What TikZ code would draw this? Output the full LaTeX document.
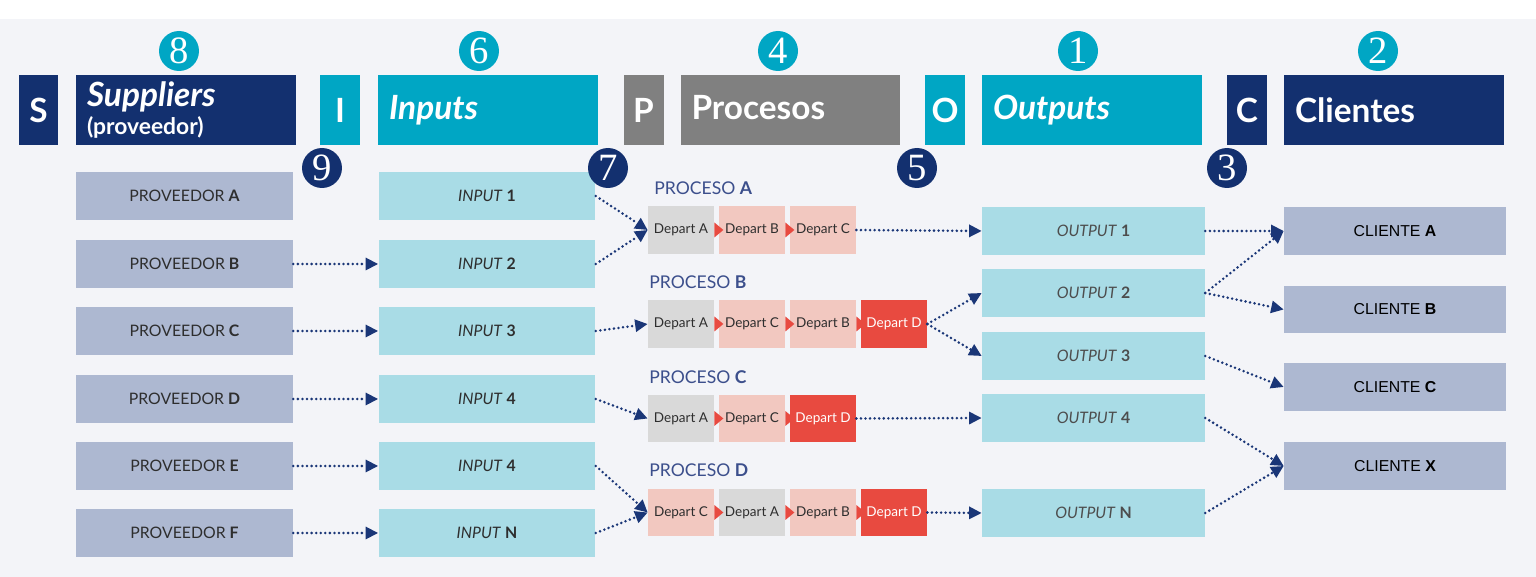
\documentclass[tikz,border=0pt]{standalone}
\usepackage{fontspec}
\newfontfamily\lato{Lato}
\newfontfamily\arialish{Liberation Sans}
\newfontfamily\numserif{Liberation Serif}
\usetikzlibrary{arrows.meta}
\definecolor{cnavy}{HTML}{13306F}
\definecolor{cteal}{HTML}{00A6C4}
\definecolor{cgrey}{HTML}{808080}
\definecolor{cbg}{HTML}{F3F4F8}
\definecolor{csupp}{HTML}{ADB8D1}
\definecolor{cinput}{HTML}{A9DCE6}
\definecolor{cdepa}{HTML}{D9D9D9}
\definecolor{cdepb}{HTML}{F2C8C0}
\definecolor{cdepd}{HTML}{E84A40}
\definecolor{carrow}{HTML}{1A3677}
\definecolor{cproc}{HTML}{3C4F8C}
\definecolor{ctext}{HTML}{2E2E2E}
\tikzset{
  every picture/.style={font=\lato},
  head/.style={fill=#1, text=white, minimum height=1.42cm, inner xsep=0.22cm, font=\lato\bfseries\fontsize{19}{21}\selectfont},
  letter/.style={head=#1, minimum width=0.8cm, inner xsep=0pt},
  wide/.style={head=#1, minimum width=4.4cm, text width=3.96cm, align=left},
  num/.style={circle, fill=#1, text=white, minimum size=0.8cm, inner sep=0pt, font=\numserif\fontsize{22}{22}\selectfont},
  box/.style={fill=#1, text=ctext, minimum width=4.34cm, minimum height=0.96cm, inner sep=0pt, font=\lato\fontsize{9}{11}\selectfont},
  depart/.style={minimum width=1.32cm, minimum height=0.96cm, inner sep=0pt, font=\lato\fontsize{7.7}{9}\selectfont},
  plabel/.style={anchor=west, text=cproc, inner sep=0pt, font=\lato\fontsize{10}{12}\selectfont},
  pointer/.style={fill=cdepd},
  link/.style={-{Triangle[length=2.5mm, width=2.4mm]}, draw=carrow, line width=1.6pt, line cap=round, dash pattern=on 0pt off 2.6pt},
}
\begin{document}
\begin{tikzpicture}[x=0.02cm, y=-0.02cm]
  \useasboundingbox (0,0) rectangle (1536,577);
  \fill[white] (0,0) rectangle (1536,19);
  \fill[cbg] (0,19) rectangle (1536,577);
  % header row
  \node[letter=cnavy] (hs) at (38.5,110) {S};
  \node[wide=cnavy] (hsup) at (186,110) {\itshape Suppliers\\[-5pt]{\upshape\fontsize{13}{14}\selectfont(proveedor)}};
  \node[letter=cteal] (hi) at (340,110) {I};
  \node[wide=cteal] (hin) at (488,110) {\itshape Inputs};
  \node[letter=cgrey] (hp) at (643.5,110) {P};
  \node[wide=cgrey] (hpro) at (790.5,110) {\raisebox{1.2mm}{Procesos}};
  \node[letter=cteal] (ho) at (945,110) {O};
  \node[wide=cteal] (hout) at (1092,110) {\itshape Outputs};
  \node[letter=cnavy] (hc) at (1247,110) {C};
  \node[wide=cnavy] (hcli) at (1394,110) {Clientes};
  % columns
  \foreach \l/\y in {A/196,B/264,C/331,D/399,E/466,F/533}
    \node[box=csupp] (sup\l) at (184.5,\y) {PROVEEDOR \textbf{\l}};
  \foreach \i/\l/\y in {1/1/196,2/2/264,3/3/331,4/4/399,5/4/466,6/N/533}
    \node[box=cinput] (in\i) at (487,\y) {\textit{INPUT} \textbf{\l}};
  \foreach \i/\l/\y in {1/1/231,2/2/293,3/3/356,4/4/418,5/N/513}
    \node[box=cinput, minimum width=4.46cm, text=ctext!85] (out\i) at (1093.5,\y) {\textit{OUTPUT} \textbf{\l}};
  \foreach \l/\y in {A/231,B/309.5,C/387,X/466}
    \node[box=csupp, minimum width=4.44cm, text=black, font=\arialish\fontsize{9}{11}\selectfont] (cli\l) at (1395,\y) {CLIENTE \textbf{\l}};
  % procesos
  \node[plabel] (lpa) at (654,188) {PROCESO \textbf{A}};
  \node[plabel] (lpb) at (649,282) {PROCESO \textbf{B}};
  \node[plabel] (lpc) at (649,377) {PROCESO \textbf{C}};
  \node[plabel] (lpd) at (649,470) {PROCESO \textbf{D}};
  \foreach \j/\d/\c/\t in {1/A/cdepa/ctext,2/B/cdepb/ctext,3/C/cdepb/ctext}
    \node[depart, fill=\c, text=\t] (pa\j) at ({610+71*\j},230) {Depart \d};
  \foreach \j/\d/\c/\t in {1/A/cdepa/ctext,2/C/cdepb/ctext,3/B/cdepb/ctext,4/D/cdepd/white}
    \node[depart, fill=\c, text=\t] (pb\j) at ({610+71*\j},324) {Depart \d};
  \foreach \j/\d/\c/\t in {1/A/cdepa/ctext,2/C/cdepb/ctext,3/D/cdepd/white}
    \node[depart, fill=\c, text=\t] (pc\j) at ({610+71*\j},418.5) {Depart \d};
  \foreach \j/\d/\c/\t in {1/C/cdepb/ctext,2/A/cdepa/ctext,3/B/cdepb/ctext,4/D/cdepd/white}
    \node[depart, fill=\c, text=\t] (pd\j) at ({610+71*\j},512.5) {Depart \d};
  \foreach \n in {pa1,pa2,pb1,pb2,pb3,pc1,pc2,pd1,pd2,pd3}
    \fill[pointer] (\n.east) ++(0,-7.5) -- ++(9,7.5) -- ++(-9,7.5) -- cycle;
  % numbers
  \node[num=cteal] (n8) at (179,51) {8};
  \node[num=cteal] (n6) at (479,51) {6};
  \node[num=cteal] (n4) at (778,51) {4};
  \node[num=cteal] (n1) at (1078,51) {1};
  \node[num=cteal] (n2) at (1378,51) {2};
  \node[num=cnavy] (n9) at (322,168) {9};
  \node[num=cnavy] (n7) at (608,168) {7};
  \node[num=cnavy] (n5) at (917,168) {5};
  \node[num=cnavy] (n3) at (1227,168) {3};
  % links
  \foreach \s/\t in {supB/in2,supC/in3,supD/in4,supE/in5,supF/in6}
    \draw[link] (\s) -- (\t);
  \draw[link] (in1.east) -- (pa1.west);
  \draw[link] (in2.east) -- (pa1.west);
  \draw[link] (in3.east) -- (pb1.west);
  \draw[link] (in4.east) -- (pc1.west);
  \draw[link] (in5.east) -- (pd1.west);
  \draw[link] (in6.east) -- (pd1.west);
  \draw[link] (pa3.east) -- (out1.west);
  \draw[link] (pb4.east) -- (out2.west);
  \draw[link] (pb4.east) -- (out3.west);
  \draw[link] (pc3.east) -- (out4.west);
  \draw[link] (pd4.east) -- (out5.west);
  \draw[link] (out1.east) -- (cliA.west);
  \draw[link] (out2.east) -- (cliA.west);
  \draw[link] (out2.east) -- (cliB.west);
  \draw[link] (out3.east) -- (cliC.west);
  \draw[link] (out4.east) -- (cliX.west);
  \draw[link] (out5.east) -- (cliX.west);
\end{tikzpicture}
\end{document}
